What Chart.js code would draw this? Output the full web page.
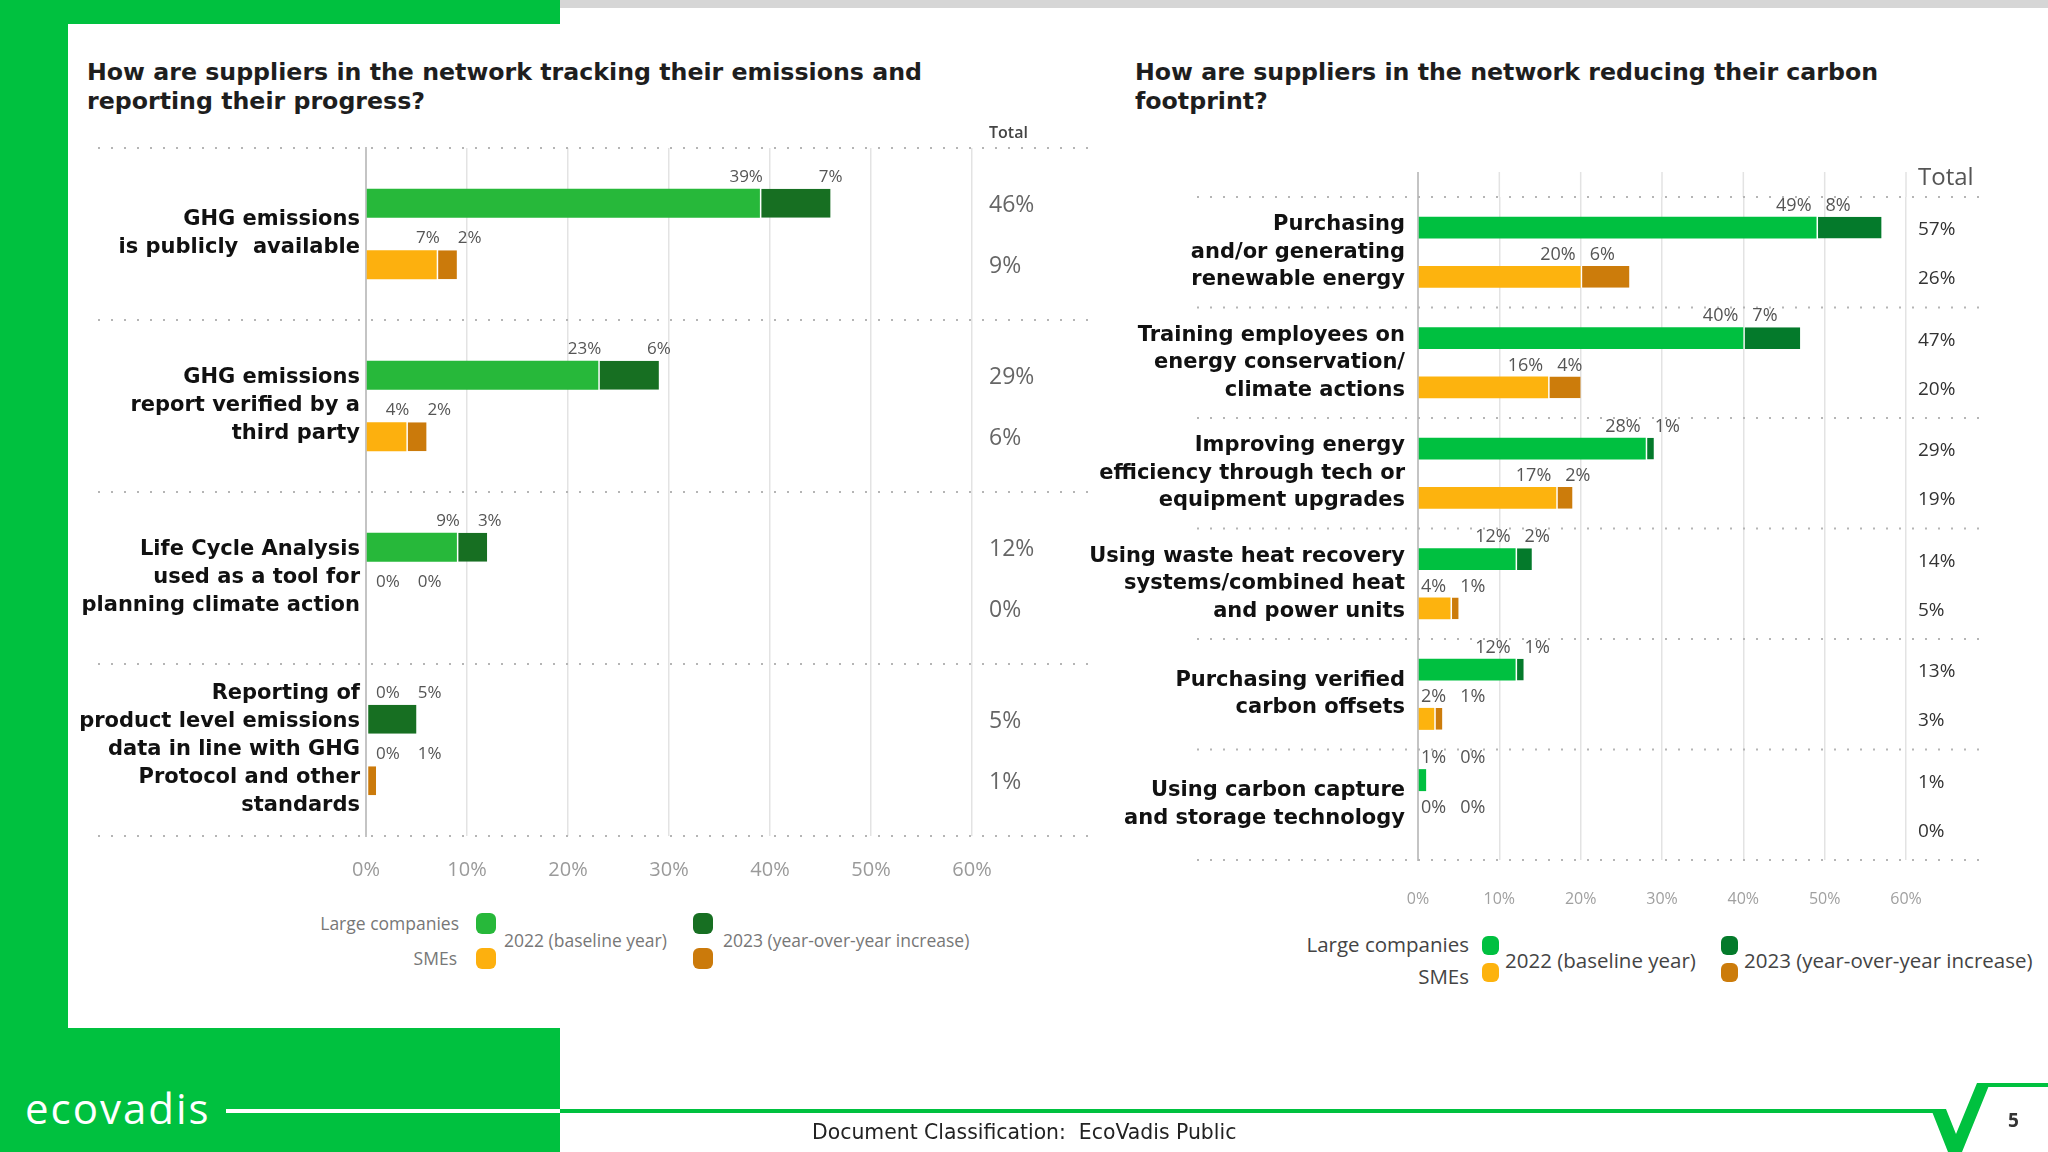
<!DOCTYPE html>
<html><head><meta charset="utf-8">
<script src="https://cdn.jsdelivr.net/npm/chart.js@4.4.1/dist/chart.umd.min.js"></script>
<style>
html,body{margin:0;padding:0;}
body{width:2048px;height:1152px;position:relative;overflow:hidden;background:#fff;font-family:'Open Sans',sans-serif;}
.box{position:absolute;}
.t{position:absolute;white-space:nowrap;transform:translateY(-50%);line-height:1;}
.title{position:absolute;font-family:'DejaVu Sans',sans-serif;font-weight:700;font-size:23.7px;line-height:28.6px;color:#1e1e1e;white-space:nowrap;}
.dot{position:absolute;border-radius:6px;}
canvas{position:absolute;}
</style></head><body>
<!-- page frame -->
<div class="box" style="left:0;top:0;width:560px;height:24px;background:#00C13F"></div>
<div class="box" style="left:560px;top:0;width:1488px;height:8px;background:#d6d6d6"></div>
<div class="box" style="left:0;top:0;width:68px;height:1152px;background:#00C13F"></div>
<div class="box" style="left:0;top:1028px;width:560px;height:124px;background:#00C13F"></div>

<div class="title" style="left:87px;top:58px">How are suppliers in the network tracking their emissions and<br>reporting their progress?</div>
<div class="title" style="left:1135px;top:58px">How are suppliers in the network reducing their carbon<br>footprint?</div>

<canvas id="leftChart" width="1040" height="800" style="left:70px;top:110px"></canvas>
<canvas id="rightChart" width="968" height="770" style="left:1080px;top:150px"></canvas>

<!-- left legend -->
<div class="t" style="right:1589px;top:924px;font-size:17.5px;color:#777">Large companies</div>
<div class="t" style="right:1591px;top:959px;font-size:17.5px;color:#777">SMEs</div>
<div class="t" style="left:504px;top:941px;font-size:17.5px;color:#777">2022 (baseline year)</div>
<div class="t" style="left:723px;top:941px;font-size:17.5px;color:#777">2023 (year-over-year increase)</div>
<div class="dot" style="left:476px;top:913px;width:20px;height:21px;background:#27B83A"></div>
<div class="dot" style="left:476px;top:948px;width:20px;height:21px;background:#FDB00E"></div>
<div class="dot" style="left:693px;top:913px;width:20px;height:21px;background:#176F22"></div>
<div class="dot" style="left:693px;top:948px;width:20px;height:21px;background:#CB7A0B"></div>

<!-- right legend -->
<div class="t" style="right:579px;top:944px;font-size:20.5px;color:#444">Large companies</div>
<div class="t" style="right:579px;top:976px;font-size:20.5px;color:#444">SMEs</div>
<div class="t" style="left:1505px;top:960px;font-size:20.5px;color:#444">2022 (baseline year)</div>
<div class="t" style="left:1744px;top:960px;font-size:20.5px;color:#444">2023 (year-over-year increase)</div>
<div class="dot" style="left:1482px;top:936px;width:17px;height:19px;background:#00C040"></div>
<div class="dot" style="left:1482px;top:963px;width:17px;height:19px;background:#FDB30E"></div>
<div class="dot" style="left:1721px;top:936px;width:17px;height:19px;background:#047A2B"></div>
<div class="dot" style="left:1721px;top:963px;width:17px;height:19px;background:#CC7C0B"></div>

<!-- footer -->
<div class="t" style="left:25px;top:1108px;font-size:42px;letter-spacing:2px;color:#fff">ecovadis</div>
<div class="box" style="left:226px;top:1109px;width:334px;height:4px;background:#fff"></div>
<div class="box" style="left:560px;top:1109px;width:1378px;height:4px;background:#00C13F"></div>
<svg class="box" style="left:0;top:0" width="2048" height="1152">
  <polygon points="1931,1109 1946,1109 1956,1134 1977,1083 1990,1083 1962,1152 1948,1152" fill="#00C13F"/>
  <rect x="1985" y="1083" width="63" height="4" fill="#00C13F"/>
</svg>
<div class="t" style="left:812px;top:1132px;font-family:'DejaVu Sans',sans-serif;font-size:20.4px;color:#222">Document Classification:&nbsp; EcoVadis Public</div>
<div class="t" style="left:2008px;top:1120px;font-size:19px;font-weight:700;color:#333">5</div>

<script>
// ---------- DATA ----------
const leftCategories = [
  ["GHG emissions", "is publicly  available"],
  ["GHG emissions", "report verified by a", "third party"],
  ["Life Cycle Analysis", "used as a tool for", "planning climate action"],
  ["Reporting of", "product level emissions", "data in line with GHG", "Protocol and other", "standards"]
];
const leftLarge2022 = [39, 23, 9, 0];
const leftLarge2023 = [7, 6, 3, 5];
const leftSme2022 = [7, 4, 0, 0];
const leftSme2023 = [2, 2, 0, 1];

const rightCategories = [
  ["Purchasing", "and/or generating", "renewable energy"],
  ["Training employees on", "energy conservation/", "climate actions"],
  ["Improving energy", "efficiency through tech or", "equipment upgrades"],
  ["Using waste heat recovery", "systems/combined heat", "and power units"],
  ["Purchasing verified", "carbon offsets"],
  ["Using carbon capture", "and storage technology"]
];
const rightLarge2022 = [49, 40, 28, 12, 12, 1];
const rightLarge2023 = [8, 7, 1, 2, 1, 0];
const rightSme2022 = [20, 16, 17, 4, 2, 0];
const rightSme2023 = [6, 4, 2, 1, 1, 0];

const xTickLabels = ["0%", "10%", "20%", "30%", "40%", "50%", "60%"];
const totalHeader = "Total";

// ---------- STYLES ----------
const leftColors = {l22: '#27B83A', l23: '#176F22', s22: '#FDB00E', s23: '#CB7A0B'};
const rightColors = {l22: '#00C040', l23: '#047A2B', s22: '#FDB30E', s23: '#CC7C0B'};
Chart.defaults.font.family = "'Open Sans', sans-serif";

const deco = {
  id: 'deco',
  beforeDatasetsDraw(chart, args, o) {
    const {ctx, chartArea: ca, scales: {x, y}} = chart;
    ctx.save();
    if (o.gridExtendTop) {
      x.ticks.forEach(t => {
        const px = x.getPixelForValue(t.value);
        ctx.strokeStyle = t.value === 0 ? o.axisColor : o.gridColor;
        ctx.lineWidth = t.value === 0 ? o.axisWidth : o.gridWidth;
        ctx.beginPath(); ctx.moveTo(px, ca.top - o.gridExtendTop); ctx.lineTo(px, ca.top); ctx.stroke();
      });
    }
    const n = chart.data.labels.length;
    const bounds = [];
    for (let i = 0; i <= n; i++) {
      bounds.push(i === 0 ? ca.top : i === n ? ca.bottom : (y.getPixelForValue(i - 1) + y.getPixelForValue(i)) / 2);
    }
    ctx.strokeStyle = o.dotColor; ctx.lineWidth = o.dotWidth; ctx.setLineDash(o.dash);
    bounds.forEach(py => {
      ctx.beginPath(); ctx.moveTo(ca.left - o.sepLeft, py); ctx.lineTo(ca.right + o.sepRight, py); ctx.stroke();
    });
    ctx.restore();
  },
  afterDatasetsDraw(chart, args, o) {
    const {ctx, chartArea: ca, scales: {x}} = chart;
    const x0 = x.getPixelForValue(0);
    ctx.save();
    ctx.textBaseline = 'middle';
    ctx.font = o.headerFont; ctx.fillStyle = o.headerColor; ctx.textAlign = 'left';
    ctx.fillText(totalHeader, ca.right + o.headerDx, ca.top + o.headerDy);
    const pairs = [[0, 1], [2, 3]];
    chart.data.labels.forEach((_, i) => {
      pairs.forEach(([a, b]) => {
        const ea = chart.getDatasetMeta(a).data[i], eb = chart.getDatasetMeta(b).data[i];
        const va = chart.data.datasets[a].data[i], vb = chart.data.datasets[b].data[i];
        const ta = va + '%', tb = vb + '%';
        ctx.font = o.labelFont; ctx.fillStyle = o.labelColor;
        const wa = ctx.measureText(ta).width, wb = ctx.measureText(tb).width;
        const ly = ea.y - ea.height / 2 - o.labelGap;
        const r1 = Math.max(ea.x + o.l1Shift, x0 + o.l1MinLeft + wa);
        let l2 = r1 + o.gap;
        if (o.snapEnd) l2 = Math.max(l2, eb.x - wb / 2);
        ctx.textAlign = 'right'; ctx.fillText(ta, r1, ly);
        ctx.textAlign = 'left'; ctx.fillText(tb, l2, ly);
        ctx.font = o.totalFont; ctx.fillStyle = o.totalColor;
        ctx.fillText((va + vb) + '%', ca.right + o.totalDx, ea.y + o.totalDy);
      });
    });
    ctx.restore();
  }
};

function makeChart(id, c) {
  return new Chart(document.getElementById(id), {
    type: 'bar',
    data: {
      labels: c.categories,
      datasets: [
        {label: 'Large companies 2022 (baseline year)', data: c.l22, backgroundColor: c.colors.l22, stack: 'large'},
        {label: 'Large companies 2023 (year-over-year increase)', data: c.l23, backgroundColor: c.colors.l23, stack: 'large',
          borderColor: '#ffffff', borderWidth: {left: 1.5, right: 0, top: 0, bottom: 0}, borderSkipped: false},
        {label: 'SMEs 2022 (baseline year)', data: c.s22, backgroundColor: c.colors.s22, stack: 'sme'},
        {label: 'SMEs 2023 (year-over-year increase)', data: c.s23, backgroundColor: c.colors.s23, stack: 'sme',
          borderColor: '#ffffff', borderWidth: {left: 1.5, right: 0, top: 0, bottom: 0}, borderSkipped: false}
      ]
    },
    options: {
      responsive: false, animation: false, indexAxis: 'y',
      datasets: {bar: {categoryPercentage: c.catPct, barPercentage: c.barPct}},
      layout: {padding: {top: c.padTop, right: c.padRight, left: 0, bottom: 0}},
      plugins: {legend: {display: false}, tooltip: {enabled: false}, deco: c.deco},
      scales: {
        x: {
          stacked: true, min: 0, max: 60,
          ticks: {stepSize: 10, callback: (v, i) => xTickLabels[i], color: c.xTickColor, font: {size: c.xTickSize}, padding: c.xTickPad},
          grid: {color: ctx => ctx.tick && ctx.tick.value === 0 ? 'rgba(0,0,0,0)' : '#e3e3e3', lineWidth: 1.5, drawTicks: false},
          border: {display: false},
          afterFit: s => { s.height = c.xHeight; }
        },
        y: {
          stacked: true,
          ticks: {color: '#111', font: {family: "'DejaVu Sans', sans-serif", size: c.yFontSize, weight: 'bold', lineHeight: c.yLineHeight}, padding: c.yPad},
          grid: {display: true, color: 'rgba(0,0,0,0)', drawTicks: false},
          border: {display: true, color: '#c4c4c4', width: 2},
          afterFit: s => { s.width = c.yWidth; s.paddingTop = 0; s.paddingBottom = 0; }
        }
      }
    },
    plugins: [deco]
  });
}

makeChart('leftChart', {
  categories: leftCategories, l22: leftLarge2022, l23: leftLarge2023, s22: leftSme2022, s23: leftSme2023,
  colors: leftColors, catPct: 0.715, barPct: 0.4715,
  padTop: 38, padRight: 138, xHeight: 74, yWidth: 296,
  xTickColor: '#9a9a9a', xTickSize: 20, xTickPad: 22,
  yFontSize: 21, yLineHeight: '28px', yPad: 6,
  deco: {gridExtendTop: 0, sepLeft: 268, sepRight: 122, dotColor: '#b5b5b5', dotWidth: 2, dash: [2, 11],
    labelFont: '17px "Open Sans"', labelColor: '#555', labelGap: 12, l1Shift: 3, l1MinLeft: 10, gap: 18, snapEnd: true,
    totalFont: '23px "Open Sans"', totalColor: '#666', totalDx: 17, totalDy: 2,
    headerFont: '600 16px "Open Sans"', headerColor: '#444', headerDx: 17, headerDy: -15}
});

makeChart('rightChart', {
  categories: rightCategories, l22: rightLarge2022, l23: rightLarge2023, s22: rightSme2022, s23: rightSme2023,
  colors: rightColors, catPct: 0.8915, barPct: 0.446,
  padTop: 47, padRight: 142, xHeight: 60, yWidth: 338,
  xTickColor: '#a0a0a0', xTickSize: 16, xTickPad: 30,
  yFontSize: 21, yLineHeight: '27.5px', yPad: 13,
  deco: {gridExtendTop: 25, gridColor: '#e3e3e3', gridWidth: 1.5, axisColor: '#c4c4c4', axisWidth: 2,
    sepLeft: 221, sepRight: 81, dotColor: '#b5b5b5', dotWidth: 2, dash: [2, 11],
    labelFont: '18px "Open Sans"', labelColor: '#555', labelGap: 11, l1Shift: -5, l1MinLeft: 3, gap: 14, snapEnd: false,
    totalFont: '19px "Open Sans"', totalColor: '#333', totalDx: 12, totalDy: 2,
    headerFont: '24px "Open Sans"', headerColor: '#555', headerDx: 12, headerDy: -19}
});
</script>
</body></html>
